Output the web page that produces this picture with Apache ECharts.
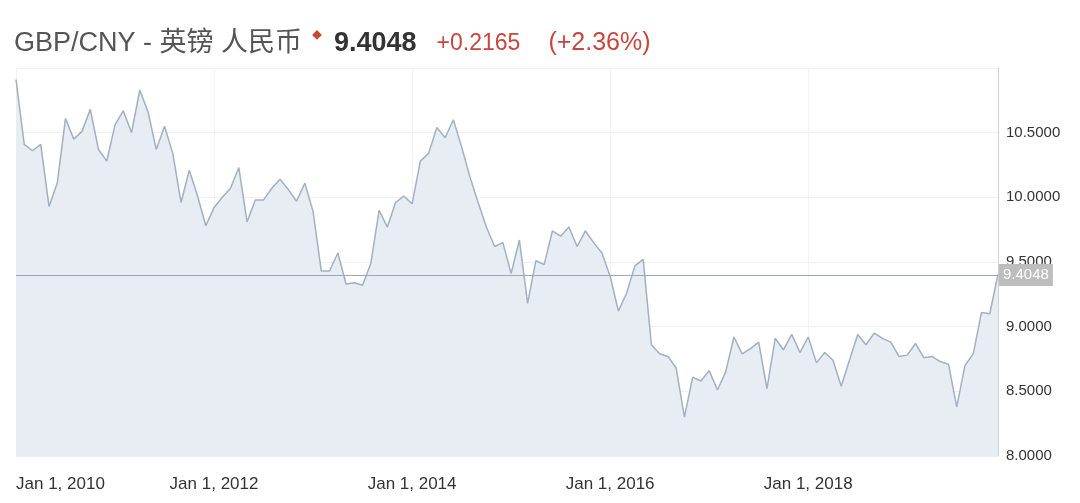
<!DOCTYPE html>
<html>
<head>
<meta charset="utf-8">
<title>GBP/CNY</title>
<script src="https://cdn.jsdelivr.net/npm/echarts@6/dist/echarts.min.js"></script>
<style>
  html,body{margin:0;padding:0;background:#fff;}
  #chart{width:1080px;height:503px;}
</style>
</head>
<body>
<div id="chart"></div>
<script>
// 月度汇率，从 2010 年 1 月开始，每月一个点
const startYear = 2010
const rates = [
  10.91, 10.41, 10.36, 10.41, 9.93, 10.11, 10.61, 10.45, 10.51, 10.68, 10.37, 10.28,
  10.56, 10.67, 10.50, 10.83, 10.66, 10.37, 10.55, 10.34, 9.96, 10.21, 10.01, 9.78,
  9.92, 10.00, 10.07, 10.23, 9.81, 9.98, 9.98, 10.07, 10.14, 10.06, 9.97, 10.11,
  9.89, 9.43, 9.43, 9.57, 9.33, 9.34, 9.32, 9.49, 9.90, 9.77, 9.96, 10.01,
  9.95, 10.28, 10.34, 10.54, 10.46, 10.60, 10.39, 10.16, 9.96, 9.77, 9.62, 9.65,
  9.41, 9.67, 9.18, 9.51, 9.48, 9.74, 9.70, 9.77, 9.62, 9.74, 9.65, 9.57,
  9.39, 9.12, 9.26, 9.47, 9.52, 8.86, 8.79, 8.77, 8.68, 8.30, 8.61, 8.58,
  8.66, 8.51, 8.65, 8.92, 8.79, 8.83, 8.88, 8.52, 8.91, 8.82, 8.94, 8.80,
  8.92, 8.72, 8.80, 8.74, 8.54, 8.74, 8.94, 8.86, 8.95, 8.91, 8.88, 8.77,
  8.78, 8.87, 8.76, 8.77, 8.73, 8.71, 8.38, 8.70, 8.79, 9.11, 9.10, 9.4048
]
const xTickYears = [2010, 2012, 2014, 2016, 2018]
const yTicks = [8.0, 8.5, 9.0, 9.5, 10.0, 10.5]
const lastPrice = 9.4048
const change = '+0.2165'
const changePct = '(+2.36%)'

// x 轴用小数年份
const points = rates.map((v, i) => [startYear + i / 12, v])
const endYear = startYear + (rates.length - 1) / 12

const red = '#c8463e'
const chart = echarts.init(document.getElementById('chart'))
chart.setOption({
  animation: false,
  textStyle: { fontFamily: 'Liberation Sans, Arial, Noto Sans CJK SC' },
  title: {
    left: 9,
    top: 25,
    text: '{a|GBP/CNY - 英镑 人民币}{u|◆}{b|' + lastPrice.toFixed(4) + '}{c|' + change + '}{d|' + changePct + '}',
    textStyle: {
      fontWeight: 'normal',
      rich: {
        a: { fontSize: 27, color: '#555', fontWeight: 'normal', fontFamily: 'Liberation Sans, Noto Sans CJK SC' },
        u: { fontSize: 10, color: red, padding: [0, 12, 14, 10] },
        b: { fontSize: 27, fontWeight: 'bold', color: '#333', padding: [0, 20, 0, 0] },
        c: { fontSize: 23, color: red, fontWeight: 'normal', padding: [0, 28, 0, 0] },
        d: { fontSize: 25, color: red, fontWeight: 'normal' }
      }
    }
  },
  grid: { left: 16, right: 82, top: 68, bottom: 47 },
  xAxis: {
    type: 'value',
    min: startYear,
    max: endYear,
    interval: 2,
    axisLine: { show: false },
    axisTick: { show: false },
    splitLine: { show: true, lineStyle: { color: '#f1f3f6' } },
    axisLabel: {
      color: '#333',
      fontSize: 17,
      margin: 20,
      alignMinLabel: 'left',
      formatter: v => {
        const y = Math.round(v)
        return (Math.abs(v - y) < 1e-6 && xTickYears.includes(y)) ? 'Jan 1, ' + y : ''
      }
    }
  },
  yAxis: {
    type: 'value',
    position: 'right',
    min: 8,
    max: 11,
    interval: 0.5,
    axisLine: { show: true, lineStyle: { color: '#d3d3d3' } },
    axisTick: { show: false },
    splitLine: { show: true, lineStyle: { color: '#eef0f3' } },
    axisLabel: {
      color: '#333',
      fontSize: 15,
      margin: 8,
      formatter: v => yTicks.some(t => Math.abs(t - v) < 1e-6) ? v.toFixed(4) : ''
    }
  },
  series: [{
    type: 'line',
    data: points,
    symbol: 'none',
    lineStyle: { color: '#a2b0c0', width: 1.5 },
    areaStyle: { color: '#e8edf4', opacity: 1 },
    markLine: {
      silent: true,
      symbol: ['none', 'none'],
      lineStyle: { color: '#9aa7b5', type: 'solid', width: 1 },
      label: {
        position: 'end',
        distance: 1,
        formatter: lastPrice.toFixed(4),
        color: '#fff',
        backgroundColor: '#bdbdbd',
        fontSize: 15,
        padding: [4, 4, 3, 4]
      },
      data: [{ yAxis: lastPrice }]
    }
  }]
})
</script>
</body>
</html>
